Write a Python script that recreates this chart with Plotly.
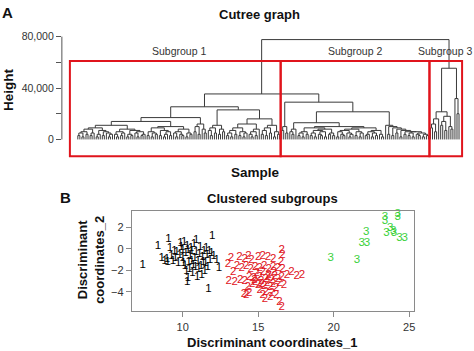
import plotly.graph_objects as go

# ------------------------------------------------------------------ data
# Dendrogram (panel A): merge height (in thousands) between each pair of
# adjacent leaves, in leaf order.  The tree is rebuilt from these values.
sub1_gaps_k = [3, 5, 2, 6, 4, 8, 3, 5, 9, 2, 4, 7, 3, 6, 5, 2, 4, 11,
               4, 2, 6, 3, 5, 8, 2, 4, 3, 7, 5, 2, 6, 3, 4, 14,
               3, 6, 2, 5, 4, 9, 3, 7, 2, 4, 6, 3, 10, 5, 2, 6, 4, 3, 8, 2, 5, 4, 17,
               6, 10, 4, 12, 8, 5, 25.4,
               7, 3, 9, 5, 11, 4, 8, 6, 23,
               3, 5, 2, 7, 4, 9, 3, 6, 2, 5, 12, 4, 2, 6, 3, 8, 16, 4, 7, 3, 9, 5, 11, 2, 6, 4]
sub2_gaps_k = [7, 10, 5, 29,
               6, 4, 8, 13,
               3, 5, 2, 6, 4, 9, 3, 5, 2, 7, 4, 3, 6, 2, 8, 4, 5, 3, 10, 2, 6, 4,
               3, 7, 5, 2, 4, 8, 3, 6, 2, 5, 9, 3, 4, 6, 2, 5, 3, 7, 4, 2, 21.5,
               11, 4, 10, 3, 9, 5, 8, 2, 7, 4, 6, 3, 5, 2, 6, 4, 3, 5, 2, 4, 3]
sub3_gaps_k = [9, 12, 6, 16, 21.5, 11, 14, 7, 18, 10, 8, 55.4, 31.8, 20]
between_gaps_k = [35.4, 77.7]
subgroup_names = ["Subgroup 1", "Subgroup 2", "Subgroup 3"]
cut_top = 61000
cut_bottom = -13000
height_ticks = [0, 20000, 40000, 60000, 80000]
height_ticktext = ["0", "", "40,000", "", "80,000"]

# Scatter (panel B): discriminant coordinates per subgroup
g1_x = [7.35, 8.35, 9.05, 11.95, 10.9, 11.7, 12.25, 12.4, 8.6, 8.95, 10.35, 10.25, 9.15,
        9.35, 10.1, 9.6, 9.8, 9.9, 10.0, 10.2, 10.3, 10.4, 10.5, 10.6, 10.7, 10.8, 10.9,
        11.0, 11.1, 11.2, 11.3, 11.4, 11.5, 11.6, 11.8, 11.9, 10.15, 10.45, 10.65, 11.05,
        11.25, 10.55, 10.75, 11.15, 9.7, 9.5, 9.25, 9.0, 8.8, 10.05, 10.35, 10.85, 11.35,
        11.55, 11.75, 10.6, 10.0, 11.45, 10.3, 9.85, 9.45, 12.05, 10.95, 11.65]
g1_y = [-1.55, 0.25, 0.95, 1.2, 0.85, -3.75, -1.0, -1.75, -0.85, -0.95, -2.7, -2.05, 0.1,
        -1.1, 0.6, -0.3, -0.6, 0.2, -0.9, -0.4, 0.3, -1.2, -0.7, -0.2, -1.5, -0.9, -0.3,
        -1.1, -0.5, -1.6, -0.8, -0.2, -1.3, -0.6, -1.0, -0.4, -1.6, -1.9, -2.3, -1.9,
        -2.4, 0.1, 0.4, 0.2, -1.3, -0.9, -0.7, -1.2, -1.1, -1.3, -0.1, -1.7, -1.2,
        0.1, -0.2, -1.1, -0.1, -2.1, -3.1, 0.5, -0.2, -0.7, -2.6, -1.7]
g2_x = [13.2, 13.75, 14.1, 14.35, 14.55, 15.0, 15.3, 15.65, 16.0, 16.55, 16.6, 16.5,
        13.6, 13.9, 14.2, 14.5, 14.8, 15.1, 15.4, 15.7, 16.0, 16.3, 16.6,
        17.2, 17.55, 17.9, 16.9,
        13.05, 13.45, 13.8, 14.1, 14.4, 14.7, 14.9, 15.1, 15.3, 15.5, 15.7, 15.9, 16.1, 16.3, 16.55,
        14.6, 14.8, 15.0, 15.2, 15.4, 15.6, 15.8, 16.0, 16.2, 16.4, 16.7,
        14.3, 15.1, 15.5, 15.9, 16.2, 15.3, 14.2, 14.05, 14.4, 15.8,
        16.4, 16.55, 15.45, 14.75, 15.25, 15.65, 16.05, 13.35, 13.0]
g2_y = [-0.85, -0.75, -0.95, -0.7, -1.0, -0.75, -0.7, -0.8, -0.95, -0.1, -0.55, -1.2,
        -1.6, -1.8, -1.6, -1.9, -1.7, -1.8, -1.6, -1.9, -1.7, -1.8, -1.9,
        -2.2, -2.5, -2.45, -2.4,
        -3.0, -3.1, -2.9, -3.0, -2.6, -2.7, -2.3, -2.6, -2.2, -2.8, -2.4, -2.9, -2.5, -2.8, -2.6,
        -3.3, -3.1, -3.4, -3.0, -3.5, -3.2, -3.6, -3.3, -3.7, -3.2, -3.4,
        -3.6, -3.8, -4.0, -4.1, -4.3, -4.3, -4.35, -4.2, -4.15, -4.5,
        -5.0, -5.45, -4.7, -2.95, -3.25, -2.65, -2.15, -2.2, -1.4]
g3_x = [19.8, 21.55, 22.15, 21.85, 22.2, 23.4, 23.4, 24.25, 24.25, 23.75, 23.5, 24.0,
        24.35, 24.7, 23.95]
g3_y = [-0.85, -1.0, 1.55, 0.55, 0.5, 2.95, 2.55, 3.25, 3.0, 1.95, 1.5, 1.45,
        1.0, 1.0, 1.7]
x_ticks_b = [10, 15, 20, 25]
y_ticks_b = [-4, -2, 0, 2]

# ------------------------------------------------------------------ style
W, H = 474, 351
FONT = "Liberation Sans, Arial, sans-serif"
RED = "#e0141c"
GREEN = "#3ad13a"
DARK = "#333333"


def fx(p):
    return p / W


def fy(p):
    return 1 - p / H


# ------------------------------------------------------------------ dendrogram
gaps = [g * 1000 for g in (sub1_gaps_k + [between_gaps_k[0]] + sub2_gaps_k
                           + [between_gaps_k[1]] + sub3_gaps_k)]
n_leaves = len(gaps) + 1
sizes = [len(sub1_gaps_k) + 1, len(sub2_gaps_k) + 1, len(sub3_gaps_k) + 1]

seg_x, seg_y = [], []


def build(lo, hi):
    if lo == hi:
        return lo + 1, 0.0
    k = max(range(lo, hi), key=lambda i: gaps[i])
    xl, hl = build(lo, k)
    xr, hr = build(k + 1, hi)
    h = gaps[k]
    seg_x.extend([xl, xl, xr, xr, None])
    seg_y.extend([hl, h, h, hr, None])
    return (xl + xr) / 2, h


build(0, n_leaves - 1)

# pixel geometry of panel A
leaf_first_px, leaf_last_px = 78, 460
axis_px = 62
ppu = (leaf_last_px - leaf_first_px) / (n_leaves - 1)
xr_a = [1 - (leaf_first_px - axis_px) / ppu, n_leaves + (W - leaf_last_px) / ppu]
zero_py, k_py = 137, 52 / 40000
ya_lo, ya_hi = -14500, 82000
dom_ya = [fy(zero_py - ya_lo * k_py), fy(zero_py - ya_hi * k_py)]

fig = go.Figure()
fig.add_trace(go.Scatter(x=seg_x, y=seg_y, mode="lines",
                         line=dict(color="#3a3a3a", width=1),
                         xaxis="x", yaxis="y", hoverinfo="skip", showlegend=False))

# panel B scatter
for xs, ys, lab, col in [(g1_x, g1_y, "1", "#000000"),
                         (g2_x, g2_y, "2", RED),
                         (g3_x, g3_y, "3", GREEN)]:
    fig.add_trace(go.Scatter(x=xs, y=ys, mode="text", text=[lab] * len(xs),
                             textfont=dict(family=FONT, size=11.5, color=[col] * len(xs)),
                             textposition="middle center", cliponaxis=False,
                             xaxis="x2", yaxis="y2", hoverinfo="skip",
                             showlegend=False))

shapes = []
# red cutree boxes
start = 1
for i, s in enumerate(sizes):
    end = start + s - 1
    x0 = start - 0.5 if i > 0 else start - 3.9
    x1 = end + 0.5 if i < len(sizes) - 1 else end + 1.5
    shapes.append(dict(type="rect", xref="x", yref="y", x0=x0, x1=x1,
                       y0=cut_bottom, y1=cut_top,
                       line=dict(color=RED, width=2), fillcolor="rgba(0,0,0,0)",
                       layer="above"))
    start = end + 1
# y axis line of panel A (only across tick range)
shapes.append(dict(type="line", xref="paper", yref="y", x0=fx(axis_px), x1=fx(axis_px),
                   y0=height_ticks[0], y1=height_ticks[-1],
                   line=dict(color="#555555", width=1)))

annotations = []
start = 1
for name, s in zip(subgroup_names, sizes):
    annotations.append(dict(x=start + (s - 1) / 2, y=68500, xref="x", yref="y",
                            text=name, showarrow=False,
                            font=dict(family=FONT, size=10.5, color=DARK)))
    start += s


def label(text, x, y, size, rot=0, bold=True, xanchor="center"):
    t = f"<b>{text}</b>" if bold else text
    annotations.append(dict(x=fx(x), y=fy(y), xref="paper", yref="paper", text=t,
                            showarrow=False, textangle=rot, xanchor=xanchor,
                            yanchor="middle",
                            font=dict(family=FONT, size=size, color="#111111")))


label("A", 0, 9, 15, xanchor="left")
label("Cutree graph", 260, 11, 13)
label("Height", 8, 86, 13.5, rot=-90)
label("Sample", 256, 170, 13.5)
label("B", 58, 196, 15, xanchor="left")
label("Clustered subgroups", 273, 197, 13)
label("Discriminant coordinates_1", 273, 342, 13)
label("Discriminant<br>coordinates_2", 91, 259, 13, rot=-90)

axis_b = dict(showline=True, mirror=True, linecolor="#8a8a8a", linewidth=1,
              ticks="outside", ticklen=5, tickcolor="#8a8a8a", showgrid=False,
              zeroline=False, tickfont=dict(family=FONT, size=11, color=DARK))

fig.update_layout(
    width=W, height=H, margin=dict(l=0, r=0, t=0, b=0),
    paper_bgcolor="white", plot_bgcolor="white",
    colorway=["#000000"],
    xaxis=dict(domain=[fx(axis_px), 1], range=xr_a, visible=False, anchor="y"),
    yaxis=dict(domain=dom_ya, range=[ya_lo, ya_hi], anchor="x",
               tickvals=height_ticks, ticktext=height_ticktext,
               ticks="outside", ticklen=5, tickcolor="#555555",
               showline=False, showgrid=False, zeroline=False,
               tickfont=dict(family=FONT, size=10.5, color=DARK)),
    xaxis2=dict(domain=[fx(132), fx(415)], range=[6.62, 25.33], anchor="y2",
                tickvals=x_ticks_b, **axis_b),
    yaxis2=dict(domain=[fy(311), fy(209)], range=[-5.83, 3.57], anchor="x2",
                tickvals=y_ticks_b, **axis_b),
    shapes=shapes, annotations=annotations, showlegend=False,
)

fig.write_html("out.html")
